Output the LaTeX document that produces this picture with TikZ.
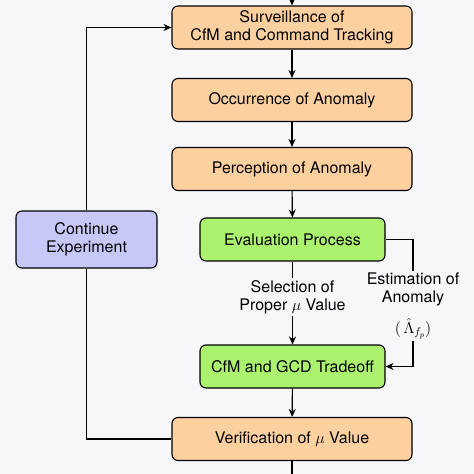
\RequirePackage{fix-cm}
\documentclass[tikz,border=0pt]{standalone}
\usepackage{fontspec}
\setmainfont{TeX Gyre Heros}
\usetikzlibrary{arrows.meta}
\definecolor{bgcol}{HTML}{F7F7FA}
\definecolor{orangebox}{HTML}{FDD09F}
\definecolor{greenbox}{HTML}{ABF36E}
\definecolor{bluebox}{HTML}{C8C8F8}
\begin{document}
\begin{tikzpicture}[x=1pt, y=-1pt,
  box/.style={draw, line width=1.1pt, rounded corners=6pt, align=center,
    inner sep=2pt, font=\fontsize{16}{18}\selectfont},
  obox/.style={box, fill=orangebox, minimum width=240pt, minimum height=43pt},
  gbox/.style={box, fill=greenbox, minimum width=185pt, minimum height=43pt},
  bbox/.style={box, fill=bluebox, minimum width=141pt, minimum height=57pt},
  lbl/.style={fill=bgcol, align=center, inner sep=2pt, font=\fontsize{16}{18}\selectfont},
  arr/.style={line width=1.1pt, -{Stealth[length=8pt,width=7pt]}},
  ln/.style={line width=1.1pt}]
  % 背景
  \fill[bgcol] (0,0) rectangle (474,474);
  \useasboundingbox (0,0) rectangle (474,474);

  % 箱
  \node[obox] (surv) at (292,27.5) {Surveillance of\\CfM and Command Tracking};
  \node[obox] (occ) at (292,100) {Occurrence of Anomaly};
  \node[obox] (perc) at (292,169) {Perception of Anomaly};
  \node[gbox] (eval) at (292.5,239.5) {Evaluation Process};
  \node[gbox] (trade) at (292.5,366.5) {CfM and GCD Tradeoff};
  \node[obox] (verif) at (292,439) {Verification of $\mu$ Value};
  \node[bbox] (cont) at (86.5,239.5) {Continue\\Experiment};

  % 端
  \coordinate (top) at (292,0);
  \coordinate (bot) at (292,474);

  % 縦の流れ
  \draw[arr] (top) -- (surv);
  \draw[arr] (surv) -- (occ);
  \draw[arr] (occ) -- (perc);
  \draw[arr] (perc) -- (eval);
  \draw[arr] (eval) -- node[lbl, pos=0.43] (sel) {Selection of\\Proper $\mu$ Value} (trade);
  \draw[arr] (trade) -- (verif);
  \draw[ln] (verif) -- (bot);

  % 右側の推定
  \node[lbl, inner ysep=2pt] (est) at (413,306) {Estimation of\\Anomaly\\[11pt]$(\,\hat{\Lambda}_{f_p})$};
  \draw[ln] (eval.east) -| (est.north);
  \draw[arr] (est.south) |- (trade.east);

  % 左側のループ
  \draw[arr] (cont.north) |- (surv.west);
  \draw[ln] (cont.south) |- (verif.west);
\end{tikzpicture}
\end{document}
